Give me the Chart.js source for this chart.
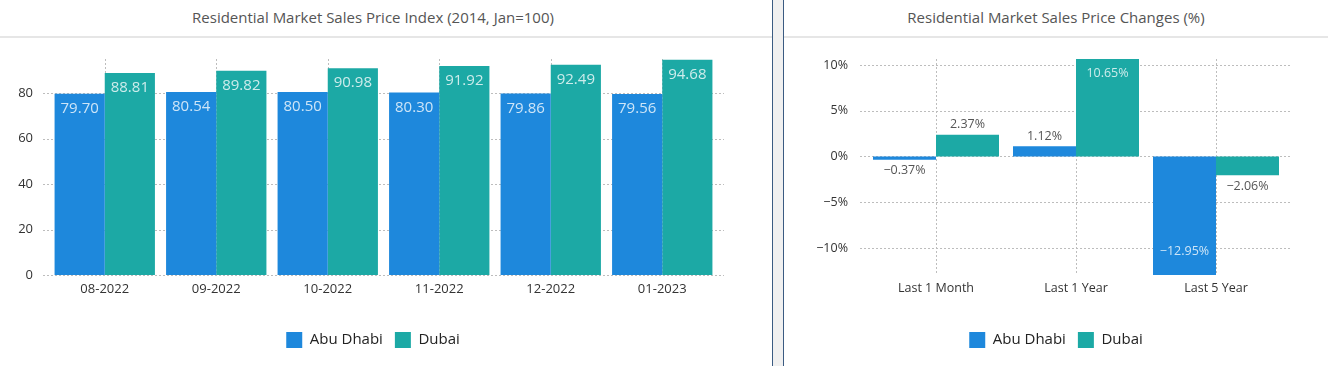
<!DOCTYPE html>
<html>
<head>
<meta charset="utf-8">
<script src="https://cdn.jsdelivr.net/npm/chart.js@4.4.1/dist/chart.umd.min.js"></script>
<style>
  html, body { margin: 0; padding: 0; background: #fff; }
  body { width: 1328px; height: 366px; position: relative; overflow: hidden; font-family: 'Open Sans', sans-serif; }
  .title { position: absolute; top: 0; height: 35px; line-height: 35px; text-align: center; font-size: 15px; color: #555; white-space: nowrap; }
  .hline { position: absolute; top: 36px; height: 2px; background: #e6e6e6; }
  .sep { position: absolute; left: 772px; top: 0; width: 10px; height: 366px; background: #f0f0f0; border-left: 1px solid #3b5b82; border-right: 1px solid #3b5b82; }
  .box { position: absolute; top: 40px; height: 326px; }
</style>
</head>
<body>
<div class="title" style="left:0;width:746px">Residential Market Sales Price Index (2014, Jan=100)</div>
<div class="title" style="left:784px;width:544px">Residential Market Sales Price Changes (%)</div>
<div class="hline" style="left:0;width:772px"></div>
<div class="hline" style="left:784px;width:544px"></div>
<div class="sep"></div>
<div class="box" style="left:0;width:746px"><canvas id="c1"></canvas></div>
<div class="box" style="left:784px;width:544px"><canvas id="c2"></canvas></div>
<script>
// ---- Data ----
const seriesNames = ['Abu Dhabi', 'Dubai'];
const indexMonths = ['08-2022', '09-2022', '10-2022', '11-2022', '12-2022', '01-2023'];
const indexAbuDhabi = [79.70, 80.54, 80.50, 80.30, 79.86, 79.56];
const indexDubai = [88.81, 89.82, 90.98, 91.92, 92.49, 94.68];
const changePeriods = ['Last 1 Month', 'Last 1 Year', 'Last 5 Year'];
const changeAbuDhabi = [-0.37, 1.12, -12.95];
const changeDubai = [2.37, 10.65, -2.06];
const indexAxisMin = 0, indexAxisMax = 95, indexStep = 20;
const changeAxisMin = -12.95, changeAxisMax = 10.65, changeStep = 5;

const BLUE = '#1e88dc';
const TEAL = '#1ca9a5';
const GRID = '#bdbdbd';

Chart.defaults.font.family = "'Open Sans', sans-serif";

const extGrid = {
  id: 'extGrid',
  beforeDatasetsDraw(chart, args, opts) {
    const ctx = chart.ctx, a = chart.chartArea, ys = chart.scales.y;
    ctx.save();
    ctx.strokeStyle = GRID;
    ctx.lineWidth = 1;
    ctx.setLineDash([2, 2]);
    ys.ticks.forEach(t => {
      const y = Math.round(ys.getPixelForValue(t.value)) + 0.5;
      ctx.beginPath();
      ctx.moveTo(a.left - opts.ext, y);
      ctx.lineTo(a.right + opts.ext, y);
      ctx.stroke();
    });
    ctx.restore();
  }
};

const vDash = {
  id: 'vDash',
  beforeDatasetsDraw(chart) {
    const ctx = chart.ctx, a = chart.chartArea, xs = chart.scales.x;
    ctx.save();
    ctx.strokeStyle = GRID; ctx.lineWidth = 1; ctx.setLineDash([2, 2]);
    xs.ticks.forEach((t, i) => {
      const x = Math.round(xs.getPixelForTick(i)) + 0.5;
      ctx.beginPath(); ctx.moveTo(x, a.top); ctx.lineTo(x, a.bottom); ctx.stroke();
    });
    ctx.restore();
  }
};

const barLabels = {
  id: 'barLabels',
  afterDatasetsDraw(chart, args, o) {
    const ctx = chart.ctx, area = chart.chartArea;
    ctx.save();
    ctx.font = o.font;
    ctx.textAlign = 'center';
    ctx.textBaseline = 'middle';
    chart.data.datasets.forEach((ds, di) => {
      const meta = chart.getDatasetMeta(di);
      meta.data.forEach((bar, i) => {
        const v = ds.data[i];
        const txt = o.format(v);
        let y, inside;
        if (o.mode === 'insideTop') {
          inside = true; y = bar.y + o.inPos;
        } else {
          const neg = v < 0;
          const outY = neg ? bar.y + o.outNeg : bar.y - o.outPos;
          if (outY - 8 < area.top || outY + 8 > area.bottom) {
            inside = true; y = neg ? bar.y - o.inNeg : bar.y + o.inPos;
          } else {
            inside = false; y = outY;
          }
        }
        ctx.fillStyle = inside ? o.insideColor : o.outsideColor;
        ctx.fillText(txt, bar.x, y);
      });
    });
    ctx.restore();
  }
};

function baseOptions(cfg) {
  return {
    responsive: true,
    maintainAspectRatio: false,
    animation: false,
    layout: { padding: { top: 19, right: 0, bottom: 8, left: 0 } },
    datasets: { bar: { categoryPercentage: 0.9, barPercentage: 1.0, borderWidth: 0 } },
    plugins: {
      legend: {
        position: 'bottom',
        labels: { boxWidth: 16, boxHeight: 16, padding: 12, color: '#222', font: { size: 15 } }
      },
      tooltip: { enabled: false },
      extGrid: { ext: 6 },
      barLabels: cfg.labels
    },
    scales: {
      x: {
        grid: { display: false, drawTicks: false },
        border: { display: false },
        ticks: { color: '#333', padding: 6, font: { size: cfg.xFont } },
        afterFit: s => { s.height = 45; s.paddingLeft = 0; s.paddingRight = cfg.padRight; }
      },
      y: {
        min: cfg.min, max: cfg.max,
        grid: { display: false, drawTicks: false },
        border: { display: false },
        ticks: { stepSize: cfg.step, includeBounds: false, color: '#333', padding: cfg.yPad, font: { size: cfg.yFont }, callback: cfg.yFmt },
        afterFit: s => { s.width = cfg.yWidth; s.paddingTop = 0; s.paddingBottom = 0; }
      }
    }
  };
}

const opt1 = baseOptions({
  padRight: 28, min: indexAxisMin, max: indexAxisMax, step: indexStep,
  yPad: 16, yWidth: 49, xFont: 13, yFont: 13,
  yFmt: v => String(v),
  labels: { mode: 'insideTop', font: "15px 'Open Sans', sans-serif", inPos: 15,
            insideColor: 'rgba(255,255,255,0.78)', outsideColor: '#555', format: v => v.toFixed(2) }
});
const opt2 = baseOptions({
  padRight: 42, min: changeAxisMin, max: changeAxisMax, step: changeStep,
  yPad: 18, yWidth: 82, xFont: 12.5, yFont: 12.5,
  yFmt: v => (v < 0 ? '\u2212' : '') + Math.abs(v) + '%',
  labels: { mode: 'auto', font: "12.5px 'Open Sans', sans-serif", outPos: 10, outNeg: 11, inPos: 14, inNeg: 24,
            insideColor: 'rgba(255,255,255,0.78)', outsideColor: '#555',
            format: v => (v < 0 ? '\u2212' : '') + Math.abs(v).toFixed(2) + '%' }
});

new Chart(document.getElementById('c1'), {
  type: 'bar',
  data: {
    labels: indexMonths,
    datasets: [
      { label: seriesNames[0], data: indexAbuDhabi, backgroundColor: BLUE },
      { label: seriesNames[1], data: indexDubai, backgroundColor: TEAL }
    ]
  },
  options: opt1,
  plugins: [vDash, extGrid, barLabels]
});

new Chart(document.getElementById('c2'), {
  type: 'bar',
  data: {
    labels: changePeriods,
    datasets: [
      { label: seriesNames[0], data: changeAbuDhabi, backgroundColor: BLUE },
      { label: seriesNames[1], data: changeDubai, backgroundColor: TEAL }
    ]
  },
  options: opt2,
  plugins: [vDash, extGrid, barLabels]
});
</script>
</body>
</html>
